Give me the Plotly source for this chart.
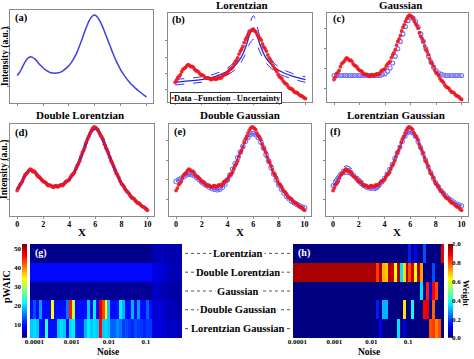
import plotly.graph_objects as go
import numpy as np

W, H = 474, 359
FONT = "Liberation Serif"

# ---------------- data ----------------
# grid of the fitted curves
X = [0.0, 0.2, 0.4, 0.6, 0.8, 1.0, 1.2, 1.4, 1.6, 1.8,
     2.0, 2.2, 2.4, 2.6, 2.8, 3.0, 3.2, 3.4, 3.6, 3.8,
     4.0, 4.2, 4.4, 4.6, 4.8, 5.0, 5.2, 5.4, 5.6, 5.8,
     6.0, 6.2, 6.4, 6.6, 6.8, 7.0, 7.2, 7.4, 7.6, 7.8,
     8.0, 8.2, 8.4, 8.6, 8.8, 9.0, 9.2, 9.4, 9.6, 9.8,
     10.0]

# grid of the noisy data
X_data = [0.0, 0.1, 0.2, 0.3, 0.4, 0.5, 0.6, 0.7, 0.8, 0.9,
          1.0, 1.1, 1.2, 1.3, 1.4, 1.5, 1.6, 1.7, 1.8, 1.9,
          2.0, 2.1, 2.2, 2.3, 2.4, 2.5, 2.6, 2.7, 2.8, 2.9,
          3.0, 3.1, 3.2, 3.3, 3.4, 3.5, 3.6, 3.7, 3.8, 3.9,
          4.0, 4.1, 4.2, 4.3, 4.4, 4.5, 4.6, 4.7, 4.8, 4.9,
          5.0, 5.1, 5.2, 5.3, 5.4, 5.5, 5.6, 5.7, 5.8, 5.9,
          6.0, 6.1, 6.2, 6.3, 6.4, 6.5, 6.6, 6.7, 6.8, 6.9,
          7.0, 7.1, 7.2, 7.3, 7.4, 7.5, 7.6, 7.7, 7.8, 7.9,
          8.0, 8.1, 8.2, 8.3, 8.4, 8.5, 8.6, 8.7, 8.8, 8.9,
          9.0, 9.1, 9.2, 9.3, 9.4, 9.5, 9.6, 9.7, 9.8, 9.9,
          10.0]

data_vals = [0.25, 0.28, 0.32, 0.335, 0.36, 0.405, 0.44, 0.455, 0.47, 0.495,
             0.51, 0.50, 0.48, 0.485, 0.47, 0.44, 0.42, 0.415, 0.40, 0.375,
             0.36, 0.355, 0.345, 0.32, 0.31, 0.315, 0.31, 0.295, 0.29, 0.305,
             0.31, 0.295, 0.30, 0.315, 0.32, 0.31, 0.33, 0.355, 0.365, 0.37,
             0.38, 0.415, 0.44, 0.45, 0.47, 0.515, 0.55, 0.575, 0.61, 0.665,
             0.71, 0.74, 0.78, 0.835, 0.88, 0.91, 0.95, 0.985, 1.01, 1.025,
             1.02, 1.005, 0.99, 0.95, 0.92, 0.90, 0.87, 0.815, 0.77, 0.745,
             0.71, 0.655, 0.61, 0.585, 0.55, 0.50, 0.46, 0.44, 0.41, 0.365,
             0.33, 0.32, 0.30, 0.265, 0.24, 0.23, 0.21, 0.18, 0.16, 0.155,
             0.145, 0.12, 0.10, 0.10, 0.09, 0.07, 0.055, 0.05, 0.04, 0.02,
             0.01]

true_curve = [0.27, 0.31, 0.37, 0.43, 0.475, 0.495, 0.49, 0.465, 0.43, 0.395,
              0.365, 0.34, 0.32, 0.305, 0.30, 0.30, 0.305, 0.315, 0.335, 0.36,
              0.39, 0.43, 0.48, 0.54, 0.62, 0.70, 0.79, 0.87, 0.94, 0.985,
              1.0, 0.975, 0.925, 0.86, 0.78, 0.70, 0.62, 0.54, 0.465, 0.40,
              0.34, 0.29, 0.245, 0.205, 0.17, 0.14, 0.11, 0.085, 0.06, 0.035,
              0.015]

lor_x = [0, 1, 2, 3, 4, 4.5, 5, 5.25, 5.5, 5.75, 6, 6.25, 6.5, 6.75, 7, 7.5, 8, 9, 10]
lor_fit = [0.25, 0.27, 0.29, 0.33, 0.41, 0.48, 0.60, 0.69, 0.82, 0.97, 1.05, 0.95, 0.81, 0.69, 0.60, 0.49, 0.42, 0.34, 0.29]
lor_up = [0.29, 0.31, 0.33, 0.37, 0.46, 0.54, 0.68, 0.78, 0.93, 1.12, 1.23, 1.10, 0.92, 0.78, 0.68, 0.55, 0.47, 0.38, 0.33]
lor_lo = [0.21, 0.23, 0.25, 0.29, 0.36, 0.42, 0.53, 0.61, 0.72, 0.83, 0.88, 0.81, 0.70, 0.60, 0.53, 0.43, 0.37, 0.30, 0.25]

gauss_fit = [0.30, 0.30, 0.30, 0.30, 0.30, 0.30, 0.30, 0.30, 0.30, 0.30,
             0.30, 0.30, 0.30, 0.30, 0.30, 0.30, 0.30, 0.30, 0.30, 0.31,
             0.32, 0.35, 0.39, 0.45, 0.53, 0.62, 0.71, 0.80, 0.89, 0.96,
             1.00, 0.99, 0.95, 0.88, 0.80, 0.71, 0.62, 0.53, 0.46, 0.40,
             0.36, 0.33, 0.315, 0.305, 0.30, 0.30, 0.30, 0.30, 0.30, 0.30,
             0.30]

dlor_fit = [0.265, 0.31, 0.37, 0.43, 0.475, 0.50, 0.49, 0.465, 0.43, 0.395,
            0.365, 0.34, 0.32, 0.305, 0.30, 0.30, 0.305, 0.315, 0.335, 0.36,
            0.39, 0.43, 0.48, 0.545, 0.62, 0.70, 0.79, 0.875, 0.945, 0.99,
            1.005, 0.98, 0.93, 0.86, 0.78, 0.70, 0.62, 0.545, 0.47, 0.40,
            0.34, 0.29, 0.245, 0.205, 0.17, 0.14, 0.11, 0.085, 0.06, 0.04,
            0.02]

dgauss_fit = [0.36, 0.38, 0.40, 0.42, 0.44, 0.45, 0.445, 0.43, 0.41, 0.38,
              0.355, 0.33, 0.31, 0.29, 0.275, 0.265, 0.26, 0.265, 0.29, 0.33,
              0.38, 0.44, 0.51, 0.58, 0.65, 0.72, 0.79, 0.85, 0.90, 0.935,
              0.945, 0.93, 0.895, 0.84, 0.77, 0.69, 0.61, 0.53, 0.45, 0.38,
              0.32, 0.27, 0.22, 0.18, 0.15, 0.12, 0.10, 0.08, 0.065, 0.05,
              0.04]

lg_fit = [0.31, 0.35, 0.40, 0.45, 0.485, 0.50, 0.495, 0.47, 0.435, 0.40,
          0.365, 0.335, 0.31, 0.29, 0.28, 0.275, 0.28, 0.295, 0.32, 0.355,
          0.40, 0.45, 0.51, 0.57, 0.64, 0.71, 0.78, 0.85, 0.91, 0.955,
          0.97, 0.95, 0.91, 0.85, 0.78, 0.70, 0.62, 0.54, 0.47, 0.40,
          0.345, 0.295, 0.25, 0.215, 0.185, 0.155, 0.13, 0.11, 0.09, 0.075,
          0.065]
lg_ux = [0, 0.5, 1, 1.5, 2, 2.5, 3, 3.5, 4, 4.5]
lg_up = [0.36, 0.46, 0.55, 0.51, 0.41, 0.34, 0.305, 0.32, 0.41, 0.53]
lg_lo = [0.27, 0.38, 0.45, 0.42, 0.33, 0.275, 0.245, 0.265, 0.38, 0.52]

models = ["Lorentzian", "Double Lorentzian", "Gaussian", "Double Gaussian", "Lorentzian Gaussian"]
noise_ticks = ["0.0001", "0.001", "0.01", "0.1"]

# pWAIC heatmap rows (51 noise columns each)
pw_L = [3.6, 3.6, 3.8, 3.6, 3.6, 3.6, 3.7, 3.6, 3.6, 3.6,
        3.6, 3.6, 3.7, 3.6, 3.6, 3.6, 3.6, 3.8, 3.6, 3.6,
        3.6, 3.6, 3.6, 3.6, 3.7, 3.6, 3.6, 3.6, 3.6, 3.6,
        3.6, 3.6, 3.7, 3.6, 3.6, 3.6, 3.6, 3.6, 3.7, 3.6,
        3.6, 5.0, 6.0, 5.5, 6.5, 5.0, 6.0, 5.5, 5.0, 6.0,
        5.0]
pw_DL = [9.6, 9.6, 9.6, 9.6, 9.6, 9.6, 9.6, 9.6, 9.6, 9.6,
         9.6, 9.6, 9.6, 9.6, 9.6, 9.6, 9.6, 9.6, 9.6, 9.6,
         9.6, 9.6, 9.6, 9.6, 9.6, 9.6, 9.6, 9.6, 9.6, 9.6,
         9.6, 9.6, 9.6, 9.6, 9.6, 9.6, 9.6, 9.6, 9.6, 9.6,
         9.6, 8.0, 7.5, 7.5, 7.0, 7.0, 6.0, 5.5, 5.5, 6.0,
         5.5]
pw_G = [4.2, 4.2, 4.2, 4.2, 4.2, 4.2, 4.2, 4.2, 4.2, 4.2,
        4.2, 4.2, 4.2, 4.2, 4.2, 4.2, 4.2, 4.2, 4.2, 4.2,
        4.2, 4.2, 4.2, 4.2, 4.2, 4.2, 4.2, 4.2, 4.2, 4.2,
        4.2, 4.2, 4.2, 4.2, 4.2, 4.2, 4.2, 4.2, 4.2, 4.2,
        4.2, 6.0, 6.5, 6.0, 5.5, 6.0, 5.0, 4.8, 5.0, 4.5,
        5.0]
pw_DG = [9.8, 13, 9.8, 17, 9.8, 9.8, 9.8, 34, 9.8, 9.8,
         9.8, 9.8, 15, 45, 31, 9.8, 9.8, 9.8, 9.8, 19,
         9.8, 21, 9.8, 48, 43, 34, 19, 9.8, 9.8, 9.8,
         21, 18, 9.8, 9.8, 18, 9.8, 17, 9.8, 9.8, 14,
         9.8, 7.5, 7.0, 7.5, 7.0, 6.5, 5.5, 5.5, 6.0, 5.5,
         5.0]
pw_LG = [19, 20, 19, 10, 10, 24, 10, 10, 10, 19,
         20, 19, 10, 20, 21, 11, 11, 11, 18, 21,
         19, 20, 19, 46, 19, 20, 19, 14, 14, 16,
         15, 12, 13, 12, 11, 13, 12, 12, 11, 12,
         12, 8.0, 7.5, 8.0, 7.0, 7.5, 6.0, 6.0, 6.5, 6.0,
         6.0]

# Weight heatmap rows
wt_L = [0, 0, 0, 0, 0, 0, 0, 0, 0, 0,
        0, 0, 0, 0, 0, 0, 0, 0, 0, 0,
        0, 0, 0, 0, 0, 0, 0, 0, 0, 0,
        0, 0, 0, 0, 0, 0, 0, 0, 0, 0.15,
        0, 0.12, 0, 0, 0.2, 0, 0, 0, 0, 0,
        0.9]
wt_DL = [0.96, 0.96, 0.96, 0.96, 0.96, 0.96, 0.96, 0.96, 0.96, 0.96,
         0.96, 0.96, 0.96, 0.96, 0.96, 0.96, 0.96, 0.96, 0.96, 0.96,
         0.96, 0.96, 0.96, 0.96, 0.96, 0.96, 0.96, 0.96, 0.82, 0.95,
         0.70, 0.68, 0.95, 0.92, 0.62, 0.95, 0.35, 0.66, 0.95, 0.80,
         0.92, 0.62, 0.95, 0.72, 0, 0, 0, 0.2, 0, 0,
         0]
wt_G = [0, 0, 0, 0, 0, 0, 0, 0, 0, 0,
        0, 0, 0, 0, 0, 0, 0, 0, 0, 0,
        0, 0, 0, 0, 0, 0, 0, 0, 0, 0,
        0, 0, 0, 0, 0, 0, 0, 0, 0, 0,
        0, 0, 0, 0.35, 0, 0.85, 0.1, 0.88, 0.8, 0,
        0]
wt_DG = [0, 0, 0, 0, 0, 0, 0, 0, 0, 0,
         0, 0, 0, 0, 0, 0, 0, 0, 0, 0,
         0, 0, 0, 0, 0, 0, 0, 0, 0.15, 0,
         0.3, 0.3, 0, 0, 0, 0, 0, 0.65, 0, 0,
         0.38, 0, 0, 0, 0.88, 0.9, 0, 0.78, 0, 0,
         0]
wt_LG = [0, 0, 0, 0, 0, 0, 0, 0, 0, 0,
         0, 0, 0, 0, 0, 0, 0, 0, 0, 0,
         0, 0, 0, 0, 0, 0, 0, 0, 0, 0.12,
         0, 0, 0, 0, 0, 0.35, 0, 0.1, 0, 0,
         0, 0, 0, 0, 0, 0, 0.8, 0.82, 0.75, 0.8,
         0]

# ---------------- styling / layout helpers ----------------
JET = [[0, 'rgb(0,0,131)'], [0.125, 'rgb(0,0,255)'], [0.375, 'rgb(0,255,255)'],
       [0.625, 'rgb(255,255,0)'], [0.875, 'rgb(255,0,0)'], [1, 'rgb(128,0,0)']]
RED = 'rgba(236,22,32,0.9)'
BLUE = '#2424d8'
LBLUE = '#7474ff'
DMARK = dict(color=RED, size=3.8)


def xd(l, r):
    return [l / W, r / W]


def yd(t, b):
    return [1 - b / H, 1 - t / H]


def px(x):
    return x / W


def py(y):
    return 1 - y / H


fig = go.Figure()

boxes = {
    1: (10, 153, 10, 103, [-0.06, 1.06], False),
    2: (168, 312, 13, 102, [-0.04, 1.27], False),
    3: (327, 468, 13, 102, [-0.02, 1.052], False),
    4: (10, 154, 124, 216, [-0.06, 1.06], True),
    5: (169, 311, 124, 216, [-0.06, 1.06], True),
    6: (326, 468, 124, 216, [-0.06, 1.06], True),
}

layout_axes = {}
for n, (l, r, t, b, yr, lab) in boxes.items():
    sx = '' if n == 1 else str(n)
    layout_axes['xaxis' + sx] = dict(
        domain=xd(l, r), anchor='y' + sx, range=[-0.55, 10.5], automargin=False,
        showline=True, linecolor='#8a8a8a', linewidth=1, mirror=True,
        ticks='outside', ticklen=2, tickcolor='#8a8a8a',
        tickvals=[0, 2, 4, 6, 8, 10], showticklabels=lab, ticklabelstandoff=-2,
        tickfont=dict(family=FONT, size=8, color='black', weight='bold'),
        showgrid=False, zeroline=False)
    layout_axes['yaxis' + sx] = dict(
        domain=yd(t, b), anchor='x' + sx, range=yr, automargin=False,
        showline=True, linecolor='#8a8a8a', linewidth=1, mirror=True,
        ticks='outside', ticklen=2, tickcolor='#8a8a8a',
        tickvals=[0.14, 0.38, 0.62, 0.86], showticklabels=False,
        showgrid=False, zeroline=False)

# (a) true function
fig.add_trace(go.Scatter(x=X, y=true_curve, mode='lines',
                         line=dict(color='#4040dd', width=1.5, shape='spline'),
                         xaxis='x', yaxis='y'))

# (b) Lorentzian
for yy in (lor_up, lor_lo):
    fig.add_trace(go.Scatter(x=lor_x, y=yy, mode='lines',
                             line=dict(color='#3030ff', width=1, dash='dash', shape='spline'),
                             xaxis='x2', yaxis='y2'))
fig.add_trace(go.Scatter(x=lor_x, y=lor_fit, mode='lines',
                         line=dict(color=BLUE, width=1.3, shape='spline'),
                         xaxis='x2', yaxis='y2'))
fig.add_trace(go.Scatter(x=X_data, y=data_vals, mode='markers', marker=DMARK,
                         xaxis='x2', yaxis='y2'))

# (c) Gaussian
fig.add_trace(go.Scatter(x=X, y=gauss_fit, mode='markers',
                         marker=dict(symbol='circle-open', color=LBLUE, size=4, line=dict(width=1.1)),
                         xaxis='x3', yaxis='y3'))
fig.add_trace(go.Scatter(x=X_data, y=data_vals, mode='markers', marker=DMARK,
                         xaxis='x3', yaxis='y3'))

# (d) Double Lorentzian
fig.add_trace(go.Scatter(x=X, y=dlor_fit, mode='lines',
                         line=dict(color=BLUE, width=3, shape='spline'),
                         xaxis='x4', yaxis='y4'))
fig.add_trace(go.Scatter(x=X_data, y=data_vals, mode='markers', marker=DMARK,
                         xaxis='x4', yaxis='y4'))

# (e) Double Gaussian
fig.add_trace(go.Scatter(x=X, y=dgauss_fit, mode='lines+markers',
                         line=dict(color=BLUE, width=1.2, shape='spline'),
                         marker=dict(symbol='circle-open', color=LBLUE, size=4.5, line=dict(width=1.1)),
                         xaxis='x5', yaxis='y5'))
fig.add_trace(go.Scatter(x=X_data, y=data_vals, mode='markers', marker=DMARK,
                         xaxis='x5', yaxis='y5'))

# (f) Lorentzian Gaussian
for yy in (lg_up, lg_lo):
    fig.add_trace(go.Scatter(x=lg_ux, y=yy, mode='lines',
                             line=dict(color='#3030ff', width=1, dash='dash', shape='spline'),
                             xaxis='x6', yaxis='y6'))
fig.add_trace(go.Scatter(x=X, y=lg_fit, mode='lines+markers',
                         line=dict(color=BLUE, width=1.3, shape='spline'),
                         marker=dict(symbol='circle-open', color=LBLUE, size=4, line=dict(width=1.1)),
                         xaxis='x6', yaxis='y6'))
fig.add_trace(go.Scatter(x=X_data, y=data_vals, mode='markers', marker=DMARK,
                         xaxis='x6', yaxis='y6'))

# ---------------- heatmaps ----------------
NCOL = len(pw_L)
XL, XR = -4.12, -0.03
DX = (XR - XL) / NCOL

fig.add_trace(go.Heatmap(z=[pw_L, pw_DL, pw_G, pw_DG, pw_LG], x0=XL + DX / 2, dx=DX,
                         y=[0, 1, 2, 3, 4], colorscale=JET, zmin=3.2, zmax=52.2,
                         showscale=False, xaxis='x7', yaxis='y7'))
fig.add_trace(go.Heatmap(z=[wt_L, wt_DL, wt_G, wt_DG, wt_LG], x0=XL + DX / 2, dx=DX,
                         y=[0, 1, 2, 3, 4], colorscale=JET, zmin=0, zmax=1,
                         showscale=False, xaxis='x9', yaxis='y9'))

# colour bars drawn as thin heatmaps
lev_g = np.linspace(3.2, 52.2, 200)
fig.add_trace(go.Heatmap(z=[[v] for v in lev_g], y=lev_g, x=[0], colorscale=JET,
                         zmin=3.2, zmax=52.2, showscale=False, xaxis='x8', yaxis='y8'))
lev_h = np.linspace(0, 1, 200)
fig.add_trace(go.Heatmap(z=[[v] for v in lev_h], y=lev_h, x=[0], colorscale=JET,
                         zmin=0, zmax=1, showscale=False, xaxis='x10', yaxis='y10'))

tickf = dict(family=FONT, size=7, color='black', weight='bold')
hm_x = dict(range=[XL, XR], tickvals=[-4, -3, -2, -1], ticktext=noise_ticks, automargin=False,
            ticks='', showline=False, showgrid=False, zeroline=False, tickfont=tickf,
            ticklabelstandoff=-2)
hm_y = dict(range=[4.5, -0.5], showticklabels=False, ticks='', showgrid=False, automargin=False,
            zeroline=False, showline=False)
layout_axes['xaxis7'] = dict(hm_x, domain=xd(30, 182), anchor='y7')
layout_axes['yaxis7'] = dict(hm_y, domain=yd(244, 338), anchor='x7')
layout_axes['xaxis9'] = dict(hm_x, domain=xd(293, 444), anchor='y9')
layout_axes['yaxis9'] = dict(hm_y, domain=yd(244, 338), anchor='x9')

layout_axes['xaxis8'] = dict(domain=xd(22, 27), anchor='y8', visible=False, range=[-0.5, 0.5],
                             automargin=False)
layout_axes['yaxis8'] = dict(domain=yd(244, 338), anchor='x8', range=[3.2, 52.2], side='left',
                             tickvals=[10, 20, 30, 40, 50], ticks='', ticklen=0, automargin=False,
                             showgrid=False, zeroline=False, showline=False, tickfont=tickf)
layout_axes['xaxis10'] = dict(domain=xd(448, 453), anchor='y10', visible=False, range=[-0.5, 0.5],
                              automargin=False)
layout_axes['yaxis10'] = dict(domain=yd(244, 338), anchor='x10', range=[0, 1], side='right',
                              tickvals=[0, 0.2, 0.4, 0.6, 0.8, 1.0],
                              ticktext=['0.0', '0.2', '0.4', '0.6', '0.8', '1.0'],
                              ticks='', ticklabelstandoff=-2, automargin=False,
                              showgrid=False, zeroline=False, showline=False, tickfont=tickf)

# ---------------- annotations ----------------
ann = []


def A(text, x, y, size, color='black', xanchor='center', angle=0, **kw):
    ann.append(dict(text='<b>' + text + '</b>', x=px(x), y=py(y), xref='paper', yref='paper',
                    showarrow=False, xanchor=xanchor, yanchor='middle', textangle=angle,
                    font=dict(family=FONT, size=size, color=color), **kw))


# panel letters
for t, x, y in [('(a)', 13, 18), ('(b)', 170, 20), ('(c)', 331, 19),
                ('(d)', 13, 133), ('(e)', 172, 132), ('(f)', 328, 132)]:
    A(t, x, y, 10.5, xanchor='left')
A('(g)', 33, 253, 10, color='white', xanchor='left')
A('(h)', 296, 253, 10, color='white', xanchor='left')

# titles
A('Lorentzian', 242, 5, 11)
A('Gaussian', 400, 5, 11)
A('Double Lorentzian', 80, 115, 11)
A('Double Gaussian', 240, 115, 11)
A('Lorentzian Gaussian', 396, 115, 11)

# axis labels
A('Intensity (a.u.)', 5, 57, 9.5, angle=-90)
A('Intensity (a.u.)', 5, 170, 9.5, angle=-90)
for xc in (82, 240, 397):
    A('X', xc, 232, 11)
A('pWAIC', 6, 287, 10, angle=-90)
A('Weight', 466, 293, 8.5, angle=90, borderpad=0)
A('Noise', 108, 352, 9.5, borderpad=0)
A('Noise', 369, 352, 9.5, borderpad=0)

# model row labels with dotted leaders
row_y = [253.4, 272.2, 291.0, 309.8, 328.6]
shapes = []
for name, yy in zip(models, row_y):
    shapes.append(dict(type='line', xref='paper', yref='paper', x0=px(185), x1=px(290),
                       y0=py(yy), y1=py(yy), line=dict(color='#555', width=1, dash='dot')))
    A(name, 237.5, yy, 10.5, bgcolor='white', borderpad=1)

# legend of panel (b)
ann.append(dict(
    text='<b><span style="color:#ec1620">▪</span>Data <span style="color:#2424d8">–</span>Function '
         '<span style="color:#7070ff">–</span>Uncertainty</b>',
    x=px(170), y=py(98), xref='paper', yref='paper', showarrow=False, xanchor='left',
    yanchor='middle', font=dict(family=FONT, size=8.5, color='black'),
    bordercolor='#333', borderwidth=1, bgcolor='white', borderpad=0))

fig.update_layout(
    width=W, height=H, margin=dict(l=0, r=0, t=0, b=0, autoexpand=False),
    paper_bgcolor='white', plot_bgcolor='white', showlegend=False,
    annotations=ann, shapes=shapes, **layout_axes)

# remove the browser's default 8px page margin so the figure fills the window exactly
fig.write_html("out.html", config={'displayModeBar': False},
               post_script="document.body.style.margin='0';document.body.style.padding='0';")
